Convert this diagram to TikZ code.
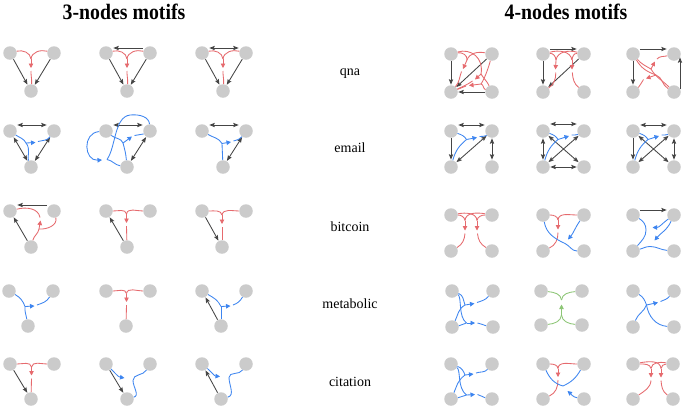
\documentclass[tikz,border=0pt]{standalone}
\usepackage{fontspec}
\setmainfont{Liberation Serif}
\usetikzlibrary{arrows.meta}
\definecolor{ndg}{HTML}{CBCBCB}
\definecolor{dk}{HTML}{454545}
\definecolor{hred}{HTML}{E66A6E}
\definecolor{hblue}{HTML}{3D85F0}
\definecolor{hgreen}{HTML}{8DC676}
\tikzset{
 bk/.tip={Stealth[length=5.5pt,width=4.2pt,inset=1pt]},
 ct/.tip={Triangle[length=4.5pt,width=4.5pt]},
 nd/.style={circle,fill=ndg,draw=none,minimum size=13.5pt,inner sep=0pt},
 ar/.style={draw=dk,line width=0.85pt,-bk,shorten >=0.3pt,shorten <=0.3pt},
 dar/.style={draw=dk,line width=0.85pt,bk-bk,shorten >=0.3pt,shorten <=0.3pt},
 hr/.style={draw=hred,line width=0.85pt},
 hb/.style={draw=hblue,line width=0.85pt},
 hg/.style={draw=hgreen,line width=0.85pt},
 arw/.style={-ct},
 lbl/.style={font=\fontsize{14}{16}\selectfont,inner sep=0pt,anchor=base},
 ttl/.style={font=\fontsize{22}{24}\selectfont\bfseries,inner sep=0pt,anchor=base},
}
\begin{document}
\begin{tikzpicture}[x=1pt,y=-1pt]
\fill[white] (0,0) rectangle (685,408);
\useasboundingbox (0,0) rectangle (685,408);

\node[ttl] (ttl3) at (124,19) {\scalebox{0.9}[1]{3-nodes motifs}};
\node[ttl] (ttl4) at (566,19) {\scalebox{0.9}[1]{4-nodes motifs}};
\node[lbl] (lq) at (350,75) {qna};
\node[lbl] (le) at (350,152) {email};
\node[lbl] (lb) at (350,231) {bitcoin};
\node[lbl] (lm) at (350,308) {metabolic};
\node[lbl] (lc) at (350,386) {citation};

%%%%%%%%%%%%%%%% 3-node motifs
% row 1 qna
\begin{scope}[shift={(10,53)}]
\node[nd] (t11a) at (0,0) {}; \node[nd] (t11b) at (44,0) {}; \node[nd] (t11c) at (21,38) {};
\coordinate (t11j) at (21,6); \coordinate (t11t) at (21,15); \coordinate (t11r) at (21,18);
\draw[ar] (t11a) -- (t11c); \draw[ar] (t11b) -- (t11c);
\draw[hr] (t11a) to[out=15,in=95] (t11j); \draw[hr] (t11b) to[out=165,in=85] (t11j);
\draw[hr,arw] (t11j) -- (t11t); \draw[hr] (t11r) to[out=-92,in=85] (t11c);
\end{scope}
\begin{scope}[shift={(106,53)}]
\node[nd] (t12a) at (0,0) {}; \node[nd] (t12b) at (44,0) {}; \node[nd] (t12c) at (21,38) {};
\coordinate (t12j) at (21,6); \coordinate (t12t) at (21,15); \coordinate (t12r) at (21,18);
\draw[ar] (t12a) -- (t12c); \draw[ar] (t12b) -- (t12c);
\draw[ar] ([yshift=5pt]t12b.west) -- ([yshift=5pt]t12a.east);
\draw[hr] (t12a) to[out=15,in=95] (t12j); \draw[hr] (t12b) to[out=165,in=85] (t12j);
\draw[hr,arw] (t12j) -- (t12t); \draw[hr] (t12r) to[out=-92,in=85] (t12c);
\end{scope}
\begin{scope}[shift={(202,53)}]
\node[nd] (t13a) at (0,0) {}; \node[nd] (t13b) at (44,0) {}; \node[nd] (t13c) at (21,38) {};
\coordinate (t13j) at (21,6); \coordinate (t13t) at (21,15); \coordinate (t13r) at (21,18);
\draw[ar] (t13a) -- (t13c); \draw[ar] (t13b) -- (t13c);
\draw[dar] ([yshift=5pt]t13a.east) -- ([yshift=5pt]t13b.west);
\draw[hr] (t13a) to[out=15,in=95] (t13j); \draw[hr] (t13b) to[out=165,in=85] (t13j);
\draw[hr,arw] (t13j) -- (t13t); \draw[hr] (t13r) to[out=-92,in=85] (t13c);
\end{scope}

% row 2 email
\begin{scope}[shift={(10,131)}]
\node[nd] (t21a) at (0,0) {}; \node[nd] (t21b) at (44,0) {}; \node[nd] (t21c) at (21,36) {};
\coordinate (t21j) at (16,12); \coordinate (t21t) at (25.5,11.5); \coordinate (t21r) at (28,10.5);
\draw[dar] ([yshift=6pt]t21a.east) -- ([yshift=6pt]t21b.west);
\draw[dar] (t21a) -- (t21c); \draw[dar] (t21b) -- (t21c);
\draw[hb] (t21a) to[out=-35,in=115] (t21j);
\draw[hb] (t21c) .. controls (17,26) and (21,18) .. (t21j);
\draw[hb,arw] (t21j) -- (t21t); \draw[hb] (t21r) to[out=15,in=-125] (t21b);
\end{scope}
\begin{scope}[shift={(106,131)}]
\node[nd] (t22a) at (0,0) {}; \node[nd] (t22b) at (44,0) {}; \node[nd] (t22c) at (21,36) {};
\coordinate (t22j) at (17,12); \coordinate (t22t) at (26,5.5); \coordinate (t22r) at (28.5,4.5);
\coordinate (t22u) at (-4,29); \coordinate (t22k) at (1,28.5);
\draw[dar] ([yshift=6pt]t22a.east) -- ([yshift=6pt]t22b.west);
\draw[dar] (t22b) -- (t22c);
\draw[hb] (t22a) to[out=-40,in=110] (t22j); \draw[hb] (t22c) to[out=95,in=-75] (t22j);
\draw[hb,arw] (t22j) -- (t22t); \draw[hb] (t22r) to[out=25,in=-155] (t22b);
\draw[hb,arw] (t22a) .. controls (-24,2) and (-22,30) .. (t22u);
\draw[hb] (t22k) .. controls (10,16) and (8,-14) .. (24,-16) .. controls (34,-17) and (43,-14) .. (t22b);
\draw[hb] (t22k) to[out=-10,in=170] (t22c);
\end{scope}
\begin{scope}[shift={(202,131)}]
\node[nd] (t23a) at (0,0) {}; \node[nd] (t23b) at (44,0) {}; \node[nd] (t23c) at (21,36) {};
\coordinate (t23j) at (20,12.5); \coordinate (t23t) at (29,11); \coordinate (t23r) at (31.5,10);
\draw[dar] ([yshift=6pt]t23a.east) -- ([yshift=6pt]t23b.west);
\draw[dar] (t23b) -- (t23c);
\draw[hb] (t23a) to[out=-30,in=120] (t23j); \draw[hb] (t23c) -- (t23j);
\draw[hb,arw] (t23j) -- (t23t); \draw[hb] (t23r) to[out=20,in=-125] (t23b);
\end{scope}

% row 3 bitcoin
\begin{scope}[shift={(10,211)}]
\node[nd] (t31a) at (0,0) {}; \node[nd] (t31b) at (44,0) {}; \node[nd] (t31c) at (21,36) {};
\coordinate (t31j) at (29,18); \coordinate (t31t) at (30.5,9.5); \coordinate (t31r) at (30,6.5);
\draw[ar] ([yshift=6pt]t31b.west) -- ([yshift=6pt]t31a.east);
\draw[ar] (t31c) -- (t31a);
\draw[hr] (t31b) to[out=-75,in=-5] (t31j); \draw[hr] (t31c) to[out=75,in=-100] (t31j);
\draw[hr,arw] (t31j) -- (t31t); \draw[hr] (t31r) to[out=100,in=15] (t31a);
\end{scope}
\begin{scope}[shift={(106,211)}]
\node[nd] (t32a) at (0,0) {}; \node[nd] (t32b) at (44,0) {}; \node[nd] (t32c) at (21,36) {};
\coordinate (t32j) at (20.5,3); \coordinate (t32t) at (20.5,12); \coordinate (t32r) at (20.5,15);
\draw[ar] (t32c) -- (t32a);
\draw[hr] (t32a) to[out=0,in=100] (t32j); \draw[hr] (t32b) to[out=180,in=80] (t32j);
\draw[hr,arw] (t32j) -- (t32t); \draw[hr] (t32r) -- (t32c);
\end{scope}
\begin{scope}[shift={(202,211)}]
\node[nd] (t33a) at (0,0) {}; \node[nd] (t33b) at (44,0) {}; \node[nd] (t33c) at (20,36) {};
\coordinate (t33j) at (20,4); \coordinate (t33t) at (20,13); \coordinate (t33r) at (20,16);
\draw[ar] (t33a) -- (t33c);
\draw[hr] (t33a) to[out=0,in=100] (t33j); \draw[hr] (t33b) to[out=180,in=80] (t33j);
\draw[hr,arw] (t33j) -- (t33t); \draw[hr] (t33r) -- (t33c);
\end{scope}

% row 4 metabolic
\begin{scope}[shift={(9,291)}]
\node[nd] (t41a) at (0,0) {}; \node[nd] (t41b) at (44,0) {}; \node[nd] (t41c) at (19,35) {};
\coordinate (t41j) at (16,15.5); \coordinate (t41t) at (25.5,15); \coordinate (t41r) at (28,14);
\draw[hb] (t41a) to[out=-30,in=110] (t41j); \draw[hb] (t41c) to[out=100,in=-95] (t41j);
\draw[hb,arw] (t41j) -- (t41t); \draw[hb] (t41r) to[out=20,in=-120] (t41b);
\end{scope}
\begin{scope}[shift={(106,291)}]
\node[nd] (t42a) at (0,0) {}; \node[nd] (t42b) at (44,0) {}; \node[nd] (t42c) at (20,35) {};
\coordinate (t42j) at (20.5,2.5); \coordinate (t42t) at (20.5,11); \coordinate (t42r) at (20.5,14);
\draw[hr] (t42a) to[out=0,in=100] (t42j); \draw[hr] (t42b) to[out=180,in=80] (t42j);
\draw[hr,arw] (t42j) -- (t42t); \draw[hr] (t42r) -- (t42c);
\end{scope}
\begin{scope}[shift={(202,291)}]
\node[nd] (t43a) at (0,0) {}; \node[nd] (t43b) at (44,0) {}; \node[nd] (t43c) at (19,35) {};
\coordinate (t43j) at (19,15.5); \coordinate (t43t) at (28.5,15); \coordinate (t43r) at (31,14);
\draw[ar] (t43c) -- (t43a);
\draw[hb] (t43a) to[out=-30,in=115] (t43j); \draw[hb] (t43c) -- (t43j);
\draw[hb,arw] (t43j) -- (t43t); \draw[hb] (t43r) to[out=20,in=-120] (t43b);
\end{scope}

% row 5 citation
\begin{scope}[shift={(10,364)}]
\node[nd] (t51a) at (0,0) {}; \node[nd] (t51b) at (44,0) {}; \node[nd] (t51c) at (21,35) {};
\coordinate (t51j) at (21.5,3); \coordinate (t51t) at (21.5,11.5); \coordinate (t51r) at (21.5,14.5);
\draw[ar] (t51a) -- (t51c);
\draw[hr] (t51a) to[out=0,in=100] (t51j); \draw[hr] (t51b) to[out=180,in=80] (t51j);
\draw[hr,arw] (t51j) -- (t51t); \draw[hr] (t51r) -- (t51c);
\end{scope}
\begin{scope}[shift={(106,364)}]
\node[nd] (t52a) at (0,0) {}; \node[nd] (t52b) at (44,0) {}; \node[nd] (t52c) at (21,35) {};
\coordinate (t52t) at (18.5,14); \coordinate (t52j) at (27,16.5);
\draw[ar] (t52a) -- (t52c);
\draw[hb,arw] (t52a) to[out=-45,in=170] (t52t);
\draw[hb] (t52b) to[out=-120,in=90] (t52j) to[out=-90,in=15] (t52c);
\end{scope}
\begin{scope}[shift={(202,364)}]
\node[nd] (t53a) at (0,0) {}; \node[nd] (t53b) at (44,0) {}; \node[nd] (t53c) at (19,35) {};
\coordinate (t53t) at (18,12.5); \coordinate (t53j) at (27,13.5);
\draw[ar] (t53c) -- (t53a);
\draw[hb,arw] (t53a) to[out=-40,in=175] (t53t);
\draw[hb] (t53b) to[out=-120,in=90] (t53j) to[out=-90,in=15] (t53c);
\end{scope}

%%%%%%%%%%%%%%%% 4-node motifs
% row 1 qna
\begin{scope}[shift={(451,54)}]
\node[nd] (f11a) at (0,0) {}; \node[nd] (f11b) at (41,0) {}; \node[nd] (f11c) at (0,38) {}; \node[nd] (f11d) at (41,38) {};
\draw[ar] (f11a) -- (f11c); \draw[ar] (f11b) -- (f11c); \draw[ar] (f11d) -- (f11c);
\coordinate (f11j1) at (16,6); \coordinate (f11t1) at (12,15); \coordinate (f11r1) at (10.5,17.5);
\draw[hr] (f11a) to[out=10,in=80] (f11j1); \draw[hr] (f11b) to[out=170,in=70] (f11j1);
\draw[hr,arw] (f11j1) -- (f11t1); \draw[hr] (f11r1) to[out=-110,in=50] (f11c);
\coordinate (f11j2) at (30,20); \coordinate (f11t2) at (24,25.5); \coordinate (f11r2) at (21.5,27);
\draw[hr] (f11a) .. controls (20,-6) and (33,4) .. (f11j2); \draw[hr] (f11d) to[out=115,in=-60] (f11j2);
\draw[hr,arw] (f11j2) -- (f11t2); \draw[hr] (f11r2) to[out=-145,in=25] (f11c);
\coordinate (f11j3) at (30,30); \coordinate (f11t3) at (18,31.5); \coordinate (f11r3) at (15,32);
\draw[hr] (f11b) .. controls (38,12) and (34,24) .. (f11j3); \draw[hr] (f11d) to[out=160,in=-10] (f11j3);
\draw[hr,arw] (f11j3) -- (f11t3); \draw[hr] (f11r3) -- (f11c);
\end{scope}
\begin{scope}[shift={(543,54)}]
\node[nd] (f12a) at (0,0) {}; \node[nd] (f12b) at (41,0) {}; \node[nd] (f12c) at (0,38) {}; \node[nd] (f12d) at (41,38) {};
\draw[ar] ([yshift=5pt]f12a.east) -- ([yshift=5pt]f12b.west);
\draw[ar] (f12a) -- (f12c); \draw[ar] (f12b) -- (f12c);
\coordinate (f12j1) at (13,6); \coordinate (f12t1) at (12.5,15.5); \coordinate (f12r1) at (12.8,18.5);
\coordinate (f12j2) at (29,6); \coordinate (f12t2) at (29,15.5); \coordinate (f12r2) at (29.3,18.5);
\draw[hr] (f12a) to[out=5,in=95] (f12j1); \draw[hr] (f12a) to[out=15,in=100] (f12j2);
\draw[hr] (f12b) to[out=175,in=85] (f12j2); \draw[hr] (f12b) to[out=165,in=80] (f12j1);
\draw[hr,arw] (f12j1) -- (f12t1); \draw[hr,arw] (f12j2) -- (f12t2);
\draw[hr] (f12r1) to[out=-90,in=35] (f12c); \draw[hr] (f12r2) to[out=-85,in=140] (f12d);
\end{scope}
\begin{scope}[shift={(633,54)}]
\node[nd] (f13a) at (0,0) {}; \node[nd] (f13b) at (41,0) {}; \node[nd] (f13c) at (0,38) {}; \node[nd] (f13d) at (41,38) {};
\draw[ar] ([yshift=5pt]f13a.east) -- ([yshift=5pt]f13b.west);
\draw[ar] (f13a) -- (f13c);
\draw[ar] ([xshift=6pt,yshift=3pt]f13d.center) -- ([xshift=6pt,yshift=-3pt]f13b.center);
\coordinate (f13j1) at (18,15); \coordinate (f13t1) at (22,7.5); \coordinate (f13r1) at (24,5);
\coordinate (f13j2) at (23,21); \coordinate (f13t2) at (13,24.5); \coordinate (f13r2) at (10.5,25.5);
\draw[hr] (f13a) to[out=-50,in=150] (f13j1); \draw[hr] (f13d) to[out=135,in=-60] (f13j1);
\draw[hr] (f13a) to[out=-60,in=160] (f13j2); \draw[hr] (f13d) to[out=150,in=-20] (f13j2);
\draw[hr,arw] (f13j1) -- (f13t1); \draw[hr] (f13r1) to[out=50,in=-165] (f13b);
\draw[hr,arw] (f13j2) -- (f13t2); \draw[hr] (f13r2) to[out=-135,in=40] (f13c);
\end{scope}

% row 2 email
\begin{scope}[shift={(451,131)}]
\node[nd] (f21a) at (0,0) {}; \node[nd] (f21b) at (41,0) {}; \node[nd] (f21c) at (0,36) {}; \node[nd] (f21d) at (41,36) {};
\draw[dar] ([yshift=6pt]f21a.east) -- ([yshift=6pt]f21b.west);
\draw[ar] (f21a) -- (f21c); \draw[dar] (f21c) -- (f21b); \draw[dar] (f21b) -- (f21d);
\coordinate (f21j) at (15.5,8.5); \coordinate (f21t) at (26,6.5); \coordinate (f21r) at (28.5,5.5);
\draw[hb] (f21a) to[out=-20,in=120] (f21j); \draw[hb] (f21c) to[out=75,in=-140] (f21j);
\draw[hb,arw] (f21j) -- (f21t); \draw[hb] (f21r) to[out=20,in=-140] (f21b);
\end{scope}
\begin{scope}[shift={(543,131)}]
\node[nd] (f22a) at (0,0) {}; \node[nd] (f22b) at (41,0) {}; \node[nd] (f22c) at (0,36) {}; \node[nd] (f22d) at (41,36) {};
\draw[dar] ([yshift=7pt]f22a.east) -- ([yshift=7pt]f22b.west);
\draw[dar] (f22a) -- (f22c); \draw[dar] (f22a) -- (f22d); \draw[dar] (f22c) -- (f22b); \draw[dar] (f22c) -- (f22d);
\coordinate (f22j) at (15,8.5); \coordinate (f22t) at (26,5); \coordinate (f22r) at (28.5,4);
\draw[hb] (f22a) to[out=-20,in=120] (f22j); \draw[hb] (f22c) to[out=75,in=-140] (f22j);
\draw[hb,arw] (f22j) -- (f22t); \draw[hb] (f22r) to[out=15,in=-150] (f22b);
\end{scope}
\begin{scope}[shift={(633,131)}]
\node[nd] (f23a) at (0,0) {}; \node[nd] (f23b) at (41,0) {}; \node[nd] (f23c) at (0,36) {}; \node[nd] (f23d) at (41,36) {};
\draw[dar] ([yshift=6pt]f23a.east) -- ([yshift=6pt]f23b.west);
\draw[ar] (f23a) -- (f23c); \draw[dar] (f23a) -- (f23d); \draw[dar] (f23c) -- (f23b); \draw[dar] (f23b) -- (f23d);
\coordinate (f23j) at (15,8.5); \coordinate (f23t) at (26,5); \coordinate (f23r) at (28.5,4);
\draw[hb] (f23a) to[out=-20,in=120] (f23j); \draw[hb] (f23c) to[out=75,in=-140] (f23j);
\draw[hb,arw] (f23j) -- (f23t); \draw[hb] (f23r) to[out=15,in=-150] (f23b);
\end{scope}

% row 3 bitcoin
\begin{scope}[shift={(451,215)}]
\node[nd] (f31a) at (0,0) {}; \node[nd] (f31b) at (41,0) {}; \node[nd] (f31c) at (0,36) {}; \node[nd] (f31d) at (41,36) {};
\coordinate (f31j1) at (14,5.5); \coordinate (f31t1) at (14,15.5); \coordinate (f31r1) at (14,18.5);
\coordinate (f31j2) at (26,5.5); \coordinate (f31t2) at (26,15.5); \coordinate (f31r2) at (26.5,18.5);
\draw[hr] (f31a) to[out=0,in=100] (f31j1); \draw[hr] (f31a) to[out=10,in=95] (f31j2);
\draw[hr] (f31b) to[out=180,in=80] (f31j2); \draw[hr] (f31b) to[out=170,in=85] (f31j1);
\draw[hr,arw] (f31j1) -- (f31t1); \draw[hr,arw] (f31j2) -- (f31t2);
\draw[hr] (f31r1) to[out=-95,in=30] (f31c); \draw[hr] (f31r2) to[out=-85,in=150] (f31d);
\end{scope}
\begin{scope}[shift={(543,215)}]
\node[nd] (f32a) at (0,0) {}; \node[nd] (f32b) at (41,0) {}; \node[nd] (f32c) at (0,36) {}; \node[nd] (f32d) at (41,36) {};
\coordinate (f32j) at (15,5); \coordinate (f32t) at (15,14.5); \coordinate (f32r) at (15,17.5);
\draw[hr] (f32a) to[out=0,in=95] (f32j); \draw[hr] (f32b) to[out=180,in=85] (f32j);
\draw[hr,arw] (f32j) -- (f32t); \draw[hr] (f32r) to[out=-90,in=25] (f32c);
\coordinate (f32k) at (22,28.5); \coordinate (f32u) at (25,24.5);
\draw[hb] (f32a) to[out=-80,in=155] (f32k) to[out=-25,in=180] (f32d);
\draw[hb,arw] (f32b) to[out=-125,in=50] (f32u);
\end{scope}
\begin{scope}[shift={(633,215)}]
\node[nd] (f33a) at (0,0) {}; \node[nd] (f33b) at (41,0) {}; \node[nd] (f33c) at (0,36) {}; \node[nd] (f33d) at (41,36) {};
\draw[ar] ([yshift=5pt]f33a.east) -- ([yshift=5pt]f33b.west);
\coordinate (f33k1) at (13,15); \coordinate (f33u1) at (19.5,12.5);
\coordinate (f33k2) at (17,31.5); \coordinate (f33u2) at (21.5,25.5);
\draw[hb] (f33a) to[out=-30,in=90] (f33k1) to[out=-90,in=50] (f33c);
\draw[hb] (f33c) to[out=15,in=180] (f33k2) to[out=0,in=175] (f33d);
\draw[hb,arw] (f33b) to[out=-145,in=0] (f33u1);
\draw[hb,arw] (f33b) to[out=-115,in=50] (f33u2);
\end{scope}

% row 4 metabolic
\begin{scope}[shift={(452,291)}]
\node[nd] (f41a) at (0,0) {}; \node[nd] (f41b) at (41,0) {}; \node[nd] (f41c) at (0,36) {}; \node[nd] (f41d) at (41,36) {};
\coordinate (f41j1) at (13,14); \coordinate (f41t1) at (22.5,12.5); \coordinate (f41r1) at (25,11.5);
\coordinate (f41j2) at (14.5,32); \coordinate (f41t2) at (23,32); \coordinate (f41r2) at (25.5,32);
\draw[hb] (f41a) to[out=-20,in=110] (f41j1); \draw[hb] (f41a) .. controls (10,6) and (6,26) .. (f41j2);
\draw[hb] (f41c) .. controls (6,24) and (6,18) .. (f41j1); \draw[hb] (f41c) to[out=10,in=-170] (f41j2);
\draw[hb,arw] (f41j1) -- (f41t1); \draw[hb] (f41r1) to[out=20,in=-130] (f41b);
\draw[hb,arw] (f41j2) -- (f41t2); \draw[hb] (f41r2) to[out=-5,in=170] (f41d);
\end{scope}
\begin{scope}[shift={(541,291)}]
\node[nd] (f42a) at (0,0) {}; \node[nd] (f42b) at (41,0) {}; \node[nd] (f42c) at (0,34) {}; \node[nd] (f42d) at (41,34) {};
\coordinate (f42jt) at (20.5,9); \coordinate (f42t) at (20.5,13.5); \coordinate (f42jb) at (20.5,24);
\draw[hg] (f42c) to[out=5,in=-95] (f42jb); \draw[hg] (f42d) to[out=175,in=-85] (f42jb);
\draw[hg,arw] (f42jb) -- (f42t);
\draw[hg] (f42jt) to[out=95,in=-5] (f42a); \draw[hg] (f42jt) to[out=85,in=185] (f42b);
\end{scope}
\begin{scope}[shift={(633,291)}]
\node[nd] (f43a) at (0,0) {}; \node[nd] (f43b) at (41,0) {}; \node[nd] (f43c) at (0,36) {}; \node[nd] (f43d) at (41,36) {};
\coordinate (f43j) at (13.5,14); \coordinate (f43t) at (25,11.5); \coordinate (f43r) at (27.5,10.5);
\draw[hb] (f43a) to[out=-30,in=110] (f43j); \draw[hb] (f43c) to[out=70,in=-110] (f43j);
\draw[hb] (f43d) to[out=175,in=-80] (f43j);
\draw[hb,arw] (f43j) -- (f43t); \draw[hb] (f43r) to[out=25,in=-130] (f43b);
\end{scope}

% row 5 citation
\begin{scope}[shift={(451,364)}]
\node[nd] (f51a) at (0,0) {}; \node[nd] (f51b) at (41,0) {}; \node[nd] (f51c) at (0,35) {}; \node[nd] (f51d) at (41,35) {};
\coordinate (f51j1) at (14,11); \coordinate (f51t1) at (22.5,10); \coordinate (f51r1) at (25,9);
\coordinate (f51j2) at (15.5,31); \coordinate (f51t2) at (24,30.5); \coordinate (f51r2) at (26.5,30.5);
\draw[hb] (f51a) to[out=-20,in=110] (f51j1); \draw[hb] (f51a) .. controls (10,6) and (6,24) .. (f51j2);
\draw[hb] (f51c) .. controls (6,22) and (6,17) .. (f51j1); \draw[hb] (f51c) to[out=10,in=-170] (f51j2);
\draw[hb,arw] (f51j1) -- (f51t1); \draw[hb] (f51r1) to[out=20,in=-130] (f51b);
\draw[hb,arw] (f51j2) -- (f51t2); \draw[hb] (f51r2) to[out=-5,in=170] (f51d);
\end{scope}
\begin{scope}[shift={(543,364)}]
\node[nd] (f52a) at (0,0) {}; \node[nd] (f52b) at (41,0) {}; \node[nd] (f52c) at (0,35) {}; \node[nd] (f52d) at (41,35) {};
\coordinate (f52j) at (15,4.5); \coordinate (f52t) at (15,13); \coordinate (f52r) at (15,16);
\draw[hr] (f52a) to[out=0,in=95] (f52j); \draw[hr] (f52b) to[out=180,in=85] (f52j);
\draw[hr,arw] (f52j) -- (f52t); \draw[hr] (f52r) to[out=-90,in=25] (f52c);
\coordinate (f52k) at (20,22); \coordinate (f52u) at (24.5,27);
\draw[hb] (f52a) to[out=-65,in=165] (f52k); \draw[hb] (f52b) to[out=-120,in=25] (f52k);
\draw[hb,arw] (f52d) to[out=170,in=-40] (f52u);
\end{scope}
\begin{scope}[shift={(633,364)}]
\node[nd] (f53a) at (0,0) {}; \node[nd] (f53b) at (40,0) {}; \node[nd] (f53c) at (0,35) {}; \node[nd] (f53d) at (40,35) {};
\coordinate (f53j1) at (18,4.5); \coordinate (f53t1) at (18,13.5); \coordinate (f53r1) at (18,16.5);
\coordinate (f53j2) at (28,4.5); \coordinate (f53t2) at (28,13.5); \coordinate (f53r2) at (28,16.5);
\draw[hr] (f53a) to[out=0,in=100] (f53j1); \draw[hr] (f53a) to[out=10,in=95] (f53j2);
\draw[hr] (f53b) to[out=180,in=80] (f53j2); \draw[hr] (f53b) to[out=170,in=85] (f53j1);
\draw[hr,arw] (f53j1) -- (f53t1); \draw[hr,arw] (f53j2) -- (f53t2);
\draw[hr] (f53r1) to[out=-95,in=35] (f53c); \draw[hr] (f53r2) to[out=-85,in=145] (f53d);
\end{scope}
\end{tikzpicture}
\end{document}
